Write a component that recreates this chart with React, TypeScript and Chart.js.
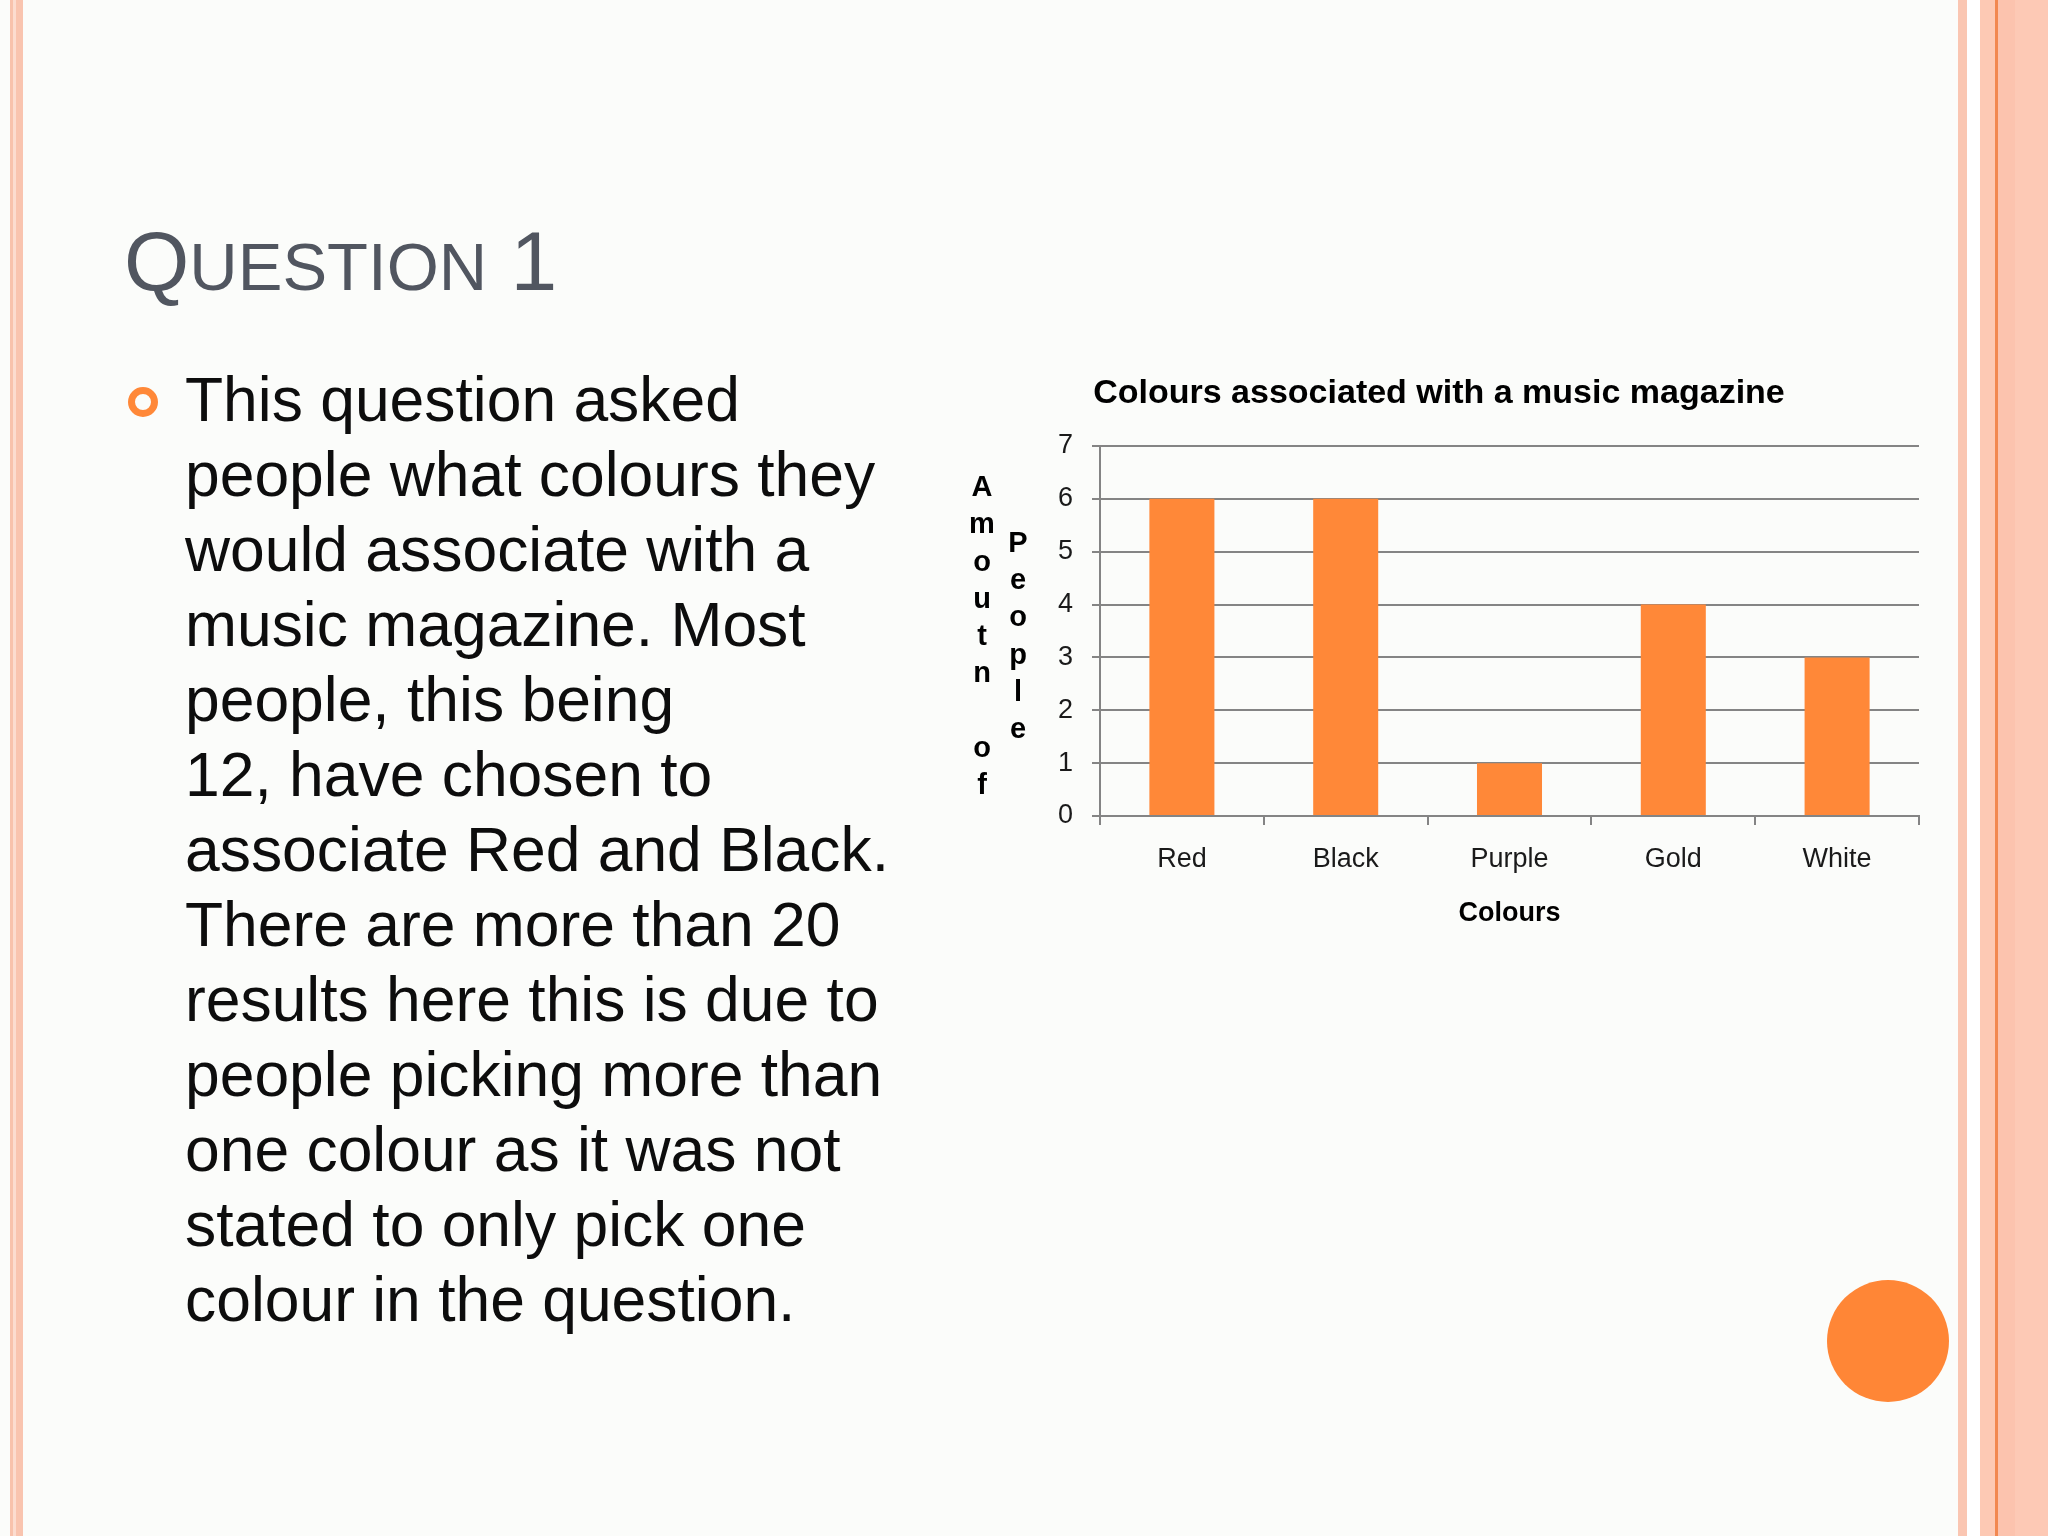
import React, { useEffect, useRef } from "react";
import { Chart, registerables } from "chart.js";

Chart.register(...registerables);

// ---- data ----
const categories = ["Red", "Black", "Purple", "Gold", "White"];
const counts = [6, 6, 1, 4, 3];
const yMin = 0;
const yMax = 7;
const yStep = 1;
const chartTitle = "Colours associated with a music magazine";
const xAxisTitle = "Colours";
const yTitleColumns = [
  ["A", "m", "o", "u", "t", "n", "", "o", "f"],
  ["P", "e", "o", "p", "l", "e"],
];
const slideTitleFirst = "Q";
const slideTitleRest = "UESTION";
const slideTitleEnd = " 1";
const bodyLines = [
  "This question asked",
  "people what colours they",
  "would associate with a",
  "music magazine. Most",
  "people, this being",
  "12, have chosen to",
  "associate Red and Black.",
  "There are more than 20",
  "results here this is due to",
  "people picking more than",
  "one colour as it was not",
  "stated to only pick one",
  "colour in the question.",
];

const FONT = "'Liberation Sans', Arial, Helvetica, sans-serif";
const ORANGE = "#FF8838";
const GRID = "#848484";

const stackedYTitle = {
  id: "stackedYTitle",
  afterDraw(chart: any) {
    const { ctx, chartArea } = chart;
    const cy = (chartArea.top + chartArea.bottom) / 2 + 14;
    ctx.save();
    ctx.font = `bold 29px ${FONT}`;
    ctx.fillStyle = "#000";
    ctx.textAlign = "center";
    ctx.textBaseline = "alphabetic";
    yTitleColumns.forEach((col, ci) => {
      const x = chartArea.left - 118 + ci * 36;
      const n = col.length;
      col.forEach((ch, i) => {
        if (!ch) return;
        const y = cy + (i - (n - 1) / 2) * 37.2;
        ctx.fillText(ch, x, y);
      });
    });
    ctx.restore();
  },
};

const CANVAS_LEFT = 959;
const CANVAS_TOP = 352;
const CANVAS_W = 981;
const CANVAS_H = 584;

function BarChart() {
  const ref = useRef<HTMLCanvasElement | null>(null);
  useEffect(() => {
    if (!ref.current) return;
    Chart.defaults.font.family = FONT;
    const chart = new Chart(ref.current, {
      type: "bar",
      data: {
        labels: categories,
        datasets: [
          {
            data: counts,
            backgroundColor: ORANGE,
            borderWidth: 0,
            categoryPercentage: 1,
            barPercentage: 0.397,
          },
        ],
      },
      options: {
        animation: false,
        responsive: false,
        devicePixelRatio: 1,
        layout: { padding: { left: 0, right: 21, top: 0, bottom: 0 } },
        plugins: {
          legend: { display: false },
          tooltip: { enabled: false },
          title: {
            display: true,
            text: chartTitle,
            color: "#000",
            font: { size: 34, weight: "bold", family: FONT },
            padding: { top: 21.6, bottom: 31.6 },
          },
        },
        scales: {
          x: {
            grid: {
              display: true,
              drawOnChartArea: false,
              drawTicks: true,
              tickLength: 9,
              color: GRID,
              lineWidth: 2,
              offset: true,
            },
            border: { display: true, color: GRID, width: 2 },
            ticks: { color: "#1a1a1a", font: { size: 27, family: FONT }, padding: 18 },
            title: {
              display: true,
              text: xAxisTitle,
              color: "#000",
              font: { size: 27, weight: "bold", family: FONT },
              padding: { top: 0, bottom: 6 },
            },
            afterFit: (s: any) => {
              s.height = 120;
            },
          },
          y: {
            min: yMin,
            max: yMax,
            ticks: {
              stepSize: yStep,
              color: "#1a1a1a",
              font: { size: 27, family: FONT },
              padding: 19,
            },
            grid: { color: GRID, lineWidth: 2, tickLength: 8, drawTicks: true },
            border: { display: true, color: GRID, width: 2 },
            afterFit: (s: any) => {
              s.width = 141;
            },
          },
        },
      },
      plugins: [stackedYTitle],
    } as any);
    return () => chart.destroy();
  }, []);
  return (
    <canvas
      ref={ref}
      width={CANVAS_W}
      height={CANVAS_H}
      style={{
        position: "absolute",
        left: CANVAS_LEFT,
        top: CANVAS_TOP,
        width: CANVAS_W,
        height: CANVAS_H,
      }}
    />
  );
}

function Stripe({ x, w, c }: { x: number; w: number; c: string }) {
  return (
    <div style={{ position: "absolute", left: x, top: 0, width: w, height: 1536, background: c }} />
  );
}

export default function App() {
  return (
    <div
      style={{
        position: "absolute",
        left: 0,
        top: 0,
        width: 2048,
        height: 1536,
        overflow: "hidden",
        background: "#FBFCFA",
        fontFamily: FONT,
      }}
    >
      {/* left border */}
      <Stripe x={10} w={3} c="#F8C2AC" />
      <Stripe x={13} w={3} c="#FCDCCF" />
      <Stripe x={16} w={7} c="#F9C4AF" />
      {/* right border */}
      <Stripe x={1958} w={9} c="#FAC6B2" />
      <Stripe x={1967} w={13} c="#FFFFFF" />
      <Stripe x={1980} w={15} c="#FDC9B4" />
      <Stripe x={1995} w={3} c="#F28850" />
      <Stripe x={1998} w={17} c="#FCC3AE" />
      <Stripe x={2015} w={33} c="#FDC9B5" />

      {/* slide title */}
      <div
        style={{
          position: "absolute",
          left: 124,
          top: 219,
          fontSize: 84,
          lineHeight: "84px",
          color: "#515660",
          whiteSpace: "nowrap",
        }}
      >
        {slideTitleFirst}
        <span style={{ fontSize: 67 }}>{slideTitleRest}</span>
        {slideTitleEnd}
      </div>

      {/* bullet */}
      <div
        style={{
          position: "absolute",
          left: 128,
          top: 387,
          width: 30,
          height: 30,
          boxSizing: "border-box",
          border: `7px solid ${ORANGE}`,
          borderRadius: "50%",
        }}
      />

      {/* body text */}
      <div
        style={{
          position: "absolute",
          left: 185,
          top: 362,
          fontSize: 62.4,
          lineHeight: "75px",
          color: "#0d0d0d",
          whiteSpace: "nowrap",
        }}
      >
        {bodyLines.map((l, i) => (
          <div key={i}>{l}</div>
        ))}
      </div>

      <BarChart />

      {/* decorative circle */}
      <div
        style={{
          position: "absolute",
          left: 1827,
          top: 1280,
          width: 122,
          height: 122,
          borderRadius: "50%",
          background: "#FF8636",
        }}
      />
    </div>
  );
}
